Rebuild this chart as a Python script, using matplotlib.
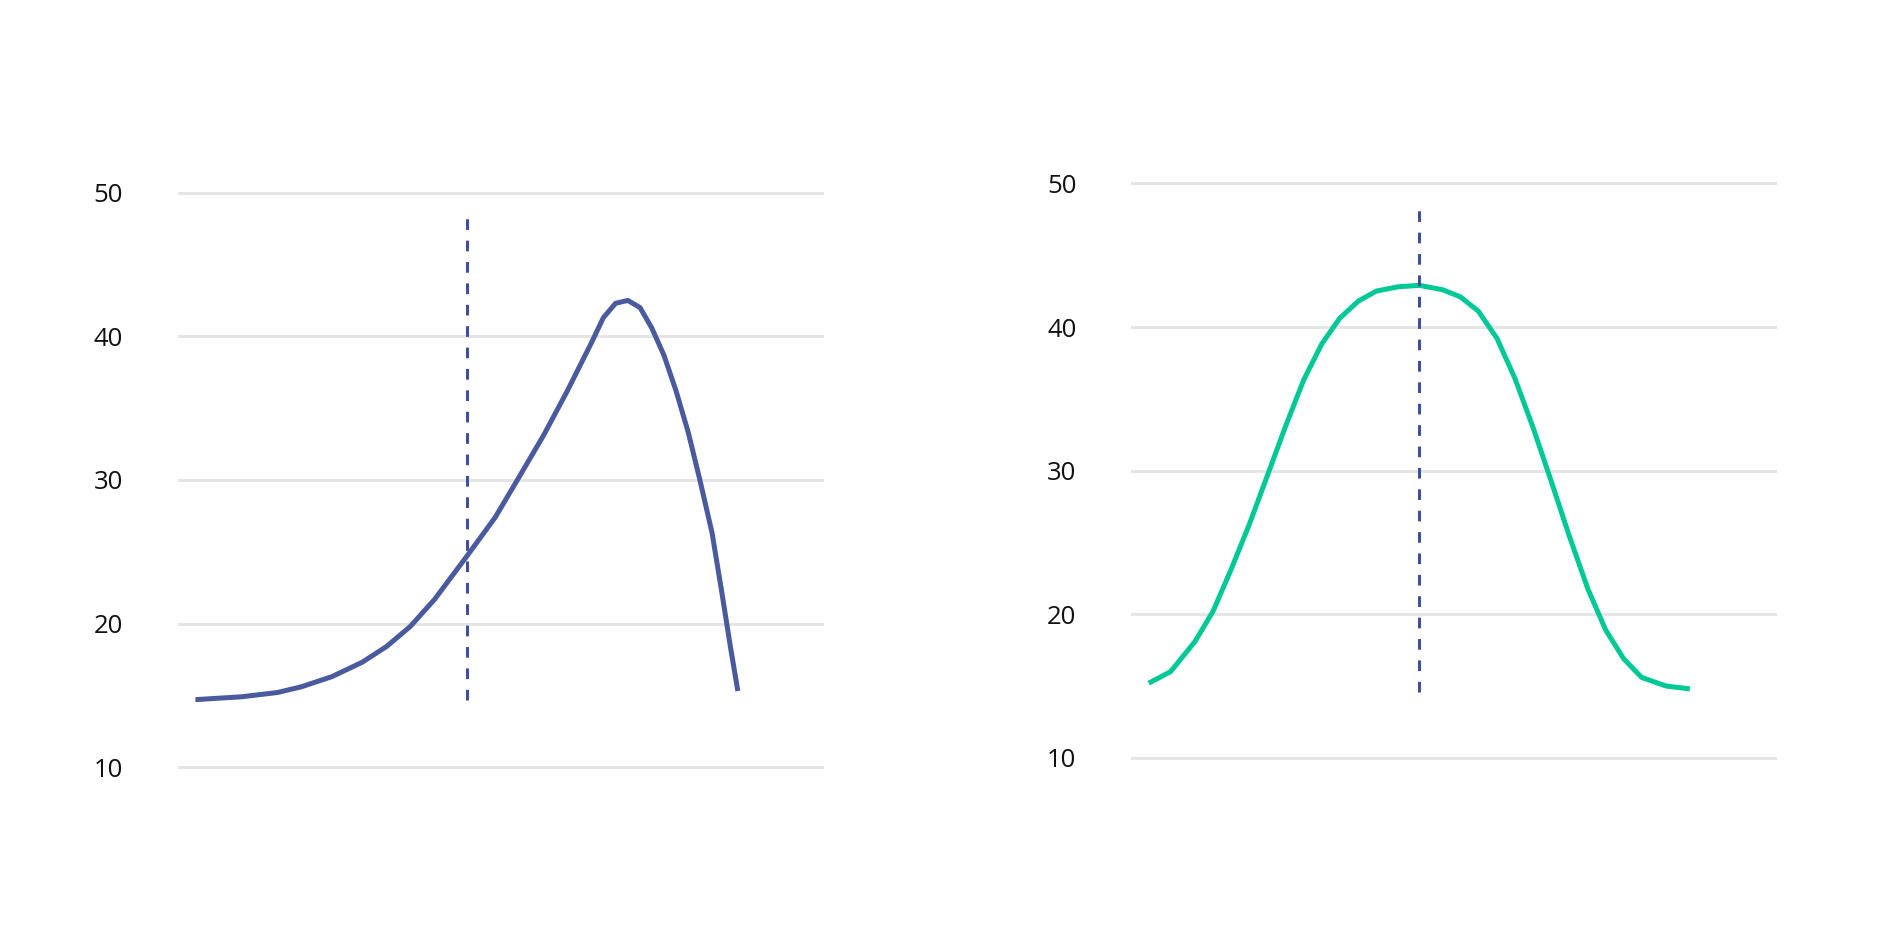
import matplotlib
matplotlib.use("Agg")
import matplotlib.pyplot as plt

# left panel: skewed curve
left_x = [2.6, 9.8, 15.4, 19.1, 23.8, 28.5, 32.3, 36.0, 39.8, 44.8, 49.2,
          52.9, 56.7, 60.4, 64.2, 66.0, 67.9, 69.8, 71.7, 73.5, 75.4, 77.3,
          79.2, 81.0, 82.9, 84.4, 85.7, 86.9]
left_y = [14.7, 14.9, 15.2, 15.6, 16.3, 17.3, 18.4, 19.8, 21.7, 24.7, 27.4,
          30.2, 33.1, 36.2, 39.6, 41.3, 42.3, 42.5, 42.0, 40.6, 38.7, 36.2,
          33.3, 30.0, 26.3, 22.2, 18.5, 15.3]
left_mark = 44.8
left_mark_span = (14.7, 48.5)

# right panel: symmetric bell
right_x = [2.6, 6.0, 9.8, 12.6, 15.4, 18.2, 21.1, 23.9, 26.7, 29.5, 32.3,
           35.2, 38.0, 41.4, 44.7, 48.3, 51.1, 53.9, 56.8, 59.6, 62.4, 65.2,
           68.0, 70.9, 73.7, 76.5, 79.3, 83.1, 86.8]
right_y = [15.2, 16.0, 18.1, 20.2, 23.1, 26.2, 29.7, 33.1, 36.3, 38.8, 40.6,
           41.8, 42.5, 42.8, 42.9, 42.6, 42.1, 41.1, 39.2, 36.4, 33.0, 29.3,
           25.5, 21.8, 18.9, 16.9, 15.6, 15.0, 14.8]
right_mark = 44.7
right_mark_span = (14.6, 48.7)

yticks = [10, 20, 30, 40, 50]

plt.rcParams['font.family'] = ['Open Sans', 'DejaVu Sans']

fig = plt.figure(figsize=(18.93, 9.31), dpi=100)
fig.patch.set_facecolor('white')

panels = [
    ([0.0944, 0.176, 0.3399, 0.617], left_x, left_y, '#4a5a9f', left_mark, left_mark_span),
    ([0.598, 0.186, 0.3395, 0.617], right_x, right_y, '#00c896', right_mark, right_mark_span),
]

for rect, xs, ys, color, mark, span in panels:
    ax = fig.add_axes(rect)
    ax.set_xlim(0, 100)
    ax.set_ylim(10, 50)
    ax.set_yticks(yticks)
    ax.set_xticks([])
    ax.grid(axis='y', color='#e5e5e5', linewidth=2.2)
    for gl in ax.yaxis.get_gridlines():
        gl.set_clip_on(False)
    ax.set_axisbelow(True)
    for s in ax.spines.values():
        s.set_visible(False)
    ax.tick_params(axis='y', length=0, pad=40, labelsize=18.5, labelcolor='#111111')
    ax.plot(xs, ys, color=color, linewidth=3.6, clip_on=False, solid_capstyle='butt')
    ax.vlines(mark, span[0], span[1], colors='#3f4f9a', linestyles=(0, (3.5, 3.5)),
              linewidth=2.2, clip_on=False)

fig.savefig("out.png", dpi=100, facecolor='white')
